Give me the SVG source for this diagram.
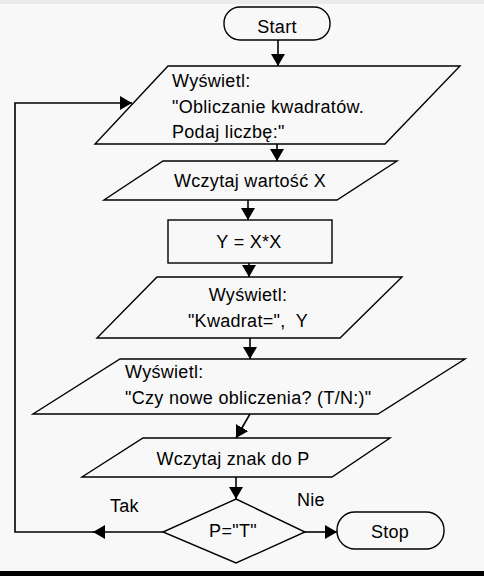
<svg xmlns="http://www.w3.org/2000/svg" width="484" height="576" viewBox="0 0 484 576">
<defs>
<marker id="ah" markerUnits="userSpaceOnUse" viewBox="0 0 12 14" refX="12" refY="7" markerWidth="12" markerHeight="14" orient="auto">
<path d="M0,0 L12,7 L0,14 z" fill="#000"/>
</marker>
<style>
.s{fill:none;stroke:#000;stroke-width:1.4}
.c{stroke:#000;stroke-width:1.6;fill:none}
.t{font-family:"Liberation Sans",Arial,sans-serif;font-size:18px;fill:#000;letter-spacing:0.3px;white-space:pre}
.m{text-anchor:middle}
</style>
</defs>
<rect x="0" y="0" width="484" height="576" fill="#f8f8f8"/>
<rect x="0" y="0" width="484" height="4" fill="#ebebeb"/>
<rect x="0" y="571" width="484" height="5" fill="#000"/>
<g id="connectors">
<path class="c" d="M278,40 V66" marker-end="url(#ah)"/>
<path class="c" d="M277,144 V161" marker-end="url(#ah)"/>
<path class="c" d="M248,200 V220" marker-end="url(#ah)"/>
<path class="c" d="M249,263 V277" marker-end="url(#ah)"/>
<path class="c" d="M250,338 V359" marker-end="url(#ah)"/>
<path class="c" d="M250,414 L236,438" marker-end="url(#ah)"/>
<path class="c" d="M236,477 V499" marker-end="url(#ah)"/>
<path class="c" d="M305,532 H337" marker-end="url(#ah)"/>
<path class="c" d="M163,532 H93" marker-end="url(#ah)"/>
<path class="c" d="M94,532 H15 V103 H132" marker-end="url(#ah)"/>
</g>
<g id="start">
<rect class="s" x="224" y="7" width="106" height="33" rx="16" ry="16"/>
<text class="t m" x="277" y="33">Start</text>
</g>
<g id="display1">
<polygon class="s" points="168,66 460,66 385,144 95,144"/>
<text class="t" x="172" y="87">Wyświetl:</text>
<text class="t" x="172" y="113">"Obliczanie kwadratów.</text>
<text class="t" x="172" y="138">Podaj liczbę:"</text>
</g>
<g id="read1">
<polygon class="s" points="163,161 397,161 337,200 104,200"/>
<text class="t m" x="250" y="187">Wczytaj wartość X</text>
</g>
<g id="calc">
<rect class="s" x="168" y="220" width="164" height="43"/>
<text class="t m" x="249" y="248">Y = X*X</text>
</g>
<g id="display2">
<polygon class="s" points="157,277 402,277 340,338 97,338"/>
<text class="t m" x="248" y="301">Wyświetl:</text>
<text class="t m" x="248" y="327">"Kwadrat=",  Y</text>
</g>
<g id="display3">
<polygon class="s" points="120,359 465,359 378,414 33,414"/>
<text class="t" x="125" y="378">Wyświetl:</text>
<text class="t" x="125" y="404">"Czy nowe obliczenia? (T/N:)"</text>
</g>
<g id="read2">
<polygon class="s" points="143,438 390,438 332,477 82,477"/>
<text class="t m" x="233" y="465">Wczytaj znak do P</text>
</g>
<g id="decision">
<polygon class="s" points="236,499 305,532 236,563 163,532"/>
<text class="t m" x="233" y="537">P="T"</text>
</g>
<g id="labels">
<text class="t" x="110" y="512">Tak</text>
<text class="t" x="297" y="506">Nie</text>
</g>
<g id="stop">
<rect class="s" x="337" y="512" width="107" height="37" rx="18" ry="18"/>
<text class="t m" x="390" y="538">Stop</text>
</g>
</svg>
